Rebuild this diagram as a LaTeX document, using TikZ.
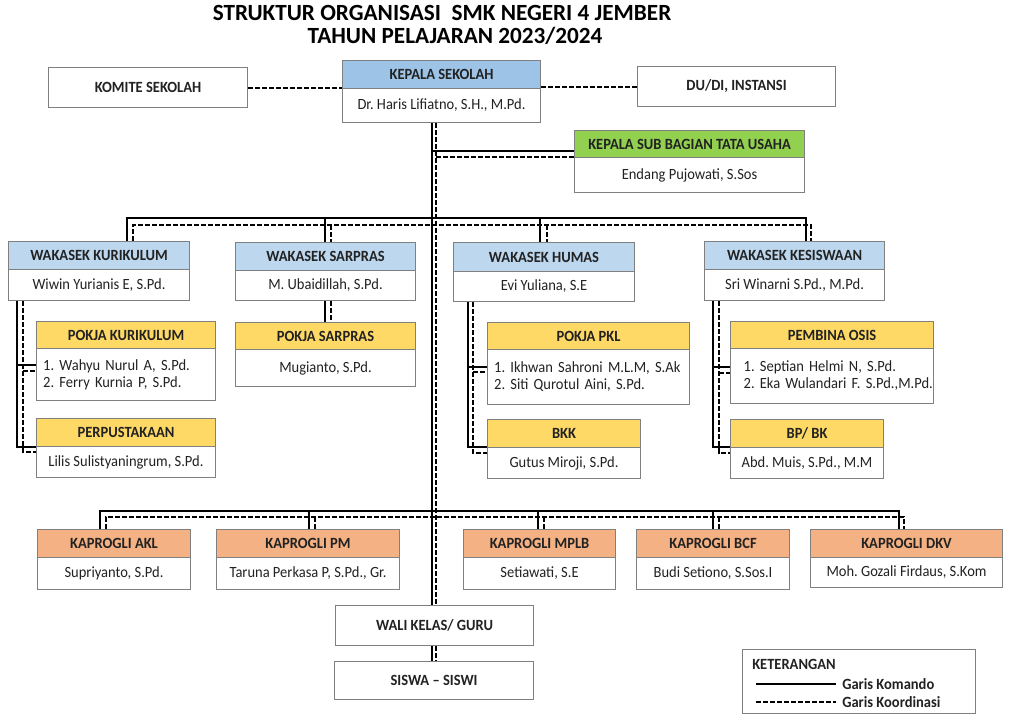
\documentclass[tikz,border=0pt]{standalone}
\usepackage{fontspec}
\setmainfont{Carlito}[FakeStretch=0.93]
\newfontfamily\titlefont{Carlito}
\frenchspacing
\definecolor{kepblue}{HTML}{9DC3E6}
\definecolor{wakblue}{HTML}{BDD7EE}
\definecolor{tugreen}{HTML}{92D050}
\definecolor{pokyel}{HTML}{FFD966}
\definecolor{kaporg}{HTML}{F4B183}
\definecolor{bordc}{HTML}{808080}
\definecolor{txtc}{HTML}{222222}
\tikzset{
  hd/.style n args={2}{draw=bordc, line width=0.8pt, minimum width=#1*0.75pt, minimum height=#2*0.75pt,
    anchor=north west, inner sep=0pt, text=txtc, font=\bfseries\fontsize{11.7}{13}\selectfont},
  bd/.style n args={2}{draw=bordc, line width=0.8pt, fill=white, minimum width=#1*0.75pt, minimum height=#2*0.75pt,
    anchor=north west, inner sep=0pt, text=txtc, font=\fontsize{11.7}{13}\selectfont},
  lst/.style={align=left, text width=#1*0.75pt-10pt, inner xsep=5pt, font=\fontsize{11.7}{12.8}\selectfont},
  cmd/.style={line width=1.5pt, black},
  crd/.style={line width=1.5pt, black, dash pattern=on 3.75pt off 1.5pt},
  ttl/.style={font=\titlefont\bfseries\fontsize{17.4}{21}\selectfont, text=black, inner sep=0pt},
  lbl/.style={font=\bfseries\fontsize{11.7}{13}\selectfont, text=txtc, inner sep=0pt, anchor=west},
}
\begin{document}
\begin{tikzpicture}[x=0.75pt, y=-0.75pt]
\useasboundingbox (0,0) rectangle (1024,725);
\fill[white] (0,0) rectangle (1024,725);

% title
\node[ttl] (t1) at (442,12.5) {STRUKTUR ORGANISASI\ \ SMK NEGERI 4 JEMBER};
\node[ttl] (t2) at (455,36) {TAHUN PELAJARAN 2023/2024};

% top
\node[hd={199}{40}] (komite) at (48,67) {KOMITE SEKOLAH};
\node[hd={198}{40}] (dudi) at (637,66) {DU/DI, INSTANSI};
\node[hd={198}{28}, fill=kepblue] (ksh) at (342,60) {KEPALA SEKOLAH};
\node[bd={198}{34}] (ks) at (342,88) {Dr. Haris Lifiatno, S.H., M.Pd.};
\node[hd={230}{27}, fill=tugreen] (tuh) at (574,130) {KEPALA SUB BAGIAN TATA USAHA};
\node[bd={230}{35}] (tu) at (574,157) {Endang Pujowati, S.Sos};

% wakasek
\node[hd={181}{28}, fill=wakblue] (wkh) at (8,241) {WAKASEK KURIKULUM};
\node[bd={181}{31}] (wk) at (8,269) {Wiwin Yurianis E, S.Pd.};
\node[hd={180}{28}, fill=wakblue] (wsh) at (235,242) {WAKASEK SARPRAS};
\node[bd={180}{30}] (ws) at (235,270) {M. Ubaidillah, S.Pd.};
\node[hd={181}{29}, fill=wakblue] (whh) at (453,242) {WAKASEK HUMAS};
\node[bd={181}{30}] (wh) at (453,271) {Evi Yuliana, S.E};
\node[hd={180}{28}, fill=wakblue] (wkesh) at (704,241) {WAKASEK KESISWAAN};
\node[bd={180}{31}] (wkes) at (704,269) {Sri Winarni S.Pd., M.Pd.};

% pokja
\node[hd={179}{27}, fill=pokyel] (pkurh) at (36,321) {POKJA KURIKULUM};
\node[bd={179}{52}, lst=179] (pkur) at (36,348) {\mbox{1. Wahyu Nurul A, S.Pd.}\\\mbox{2. Ferry Kurnia P, S.Pd.}};
\node[hd={179}{28}, fill=pokyel] (perph) at (36,418) {PERPUSTAKAAN};
\node[bd={179}{31}] (perp) at (36,446) {Lilis Sulistyaningrum, S.Pd.};
\node[hd={180}{27}, fill=pokyel] (psarh) at (235,322) {POKJA SARPRAS};
\node[bd={180}{37}] (psar) at (235,349) {Mugianto, S.Pd.};
\node[hd={202}{27}, fill=pokyel] (ppklh) at (487,322) {POKJA PKL};
\node[bd={202}{55}, lst=202] (ppkl) at (487,349) {\mbox{1. Ikhwan Sahroni M.L.M, S.Ak}\\\mbox{2. Siti Qurotul Aini, S.Pd.}};
\node[hd={153}{28}, fill=pokyel] (bkkh) at (487,419) {BKK};
\node[bd={153}{31}] (bkk) at (487,447) {Gutus Miroji, S.Pd.};
\node[hd={203}{27}, fill=pokyel] (osish) at (730,321) {PEMBINA OSIS};
\node[bd={203}{55}, lst=190, inner xsep=7.5pt] (osis) at (730,348) {\mbox{1. Septian Helmi N, S.Pd.}\\\mbox{2. Eka Wulandari F. S.Pd.,M.Pd.}};
\node[hd={153}{28}, fill=pokyel] (bpbkh) at (730,419) {BP/ BK};
\node[bd={153}{31}] (bpbk) at (730,447) {Abd. Muis, S.Pd., M.M};

% kaprogli
\node[hd={153}{28}, fill=kaporg] (aklh) at (37,529) {KAPROGLI AKL};
\node[bd={153}{32}] (akl) at (37,557) {Supriyanto, S.Pd.};
\node[hd={183}{28}, fill=kaporg] (pmh) at (216,529) {KAPROGLI PM};
\node[bd={183}{32}] (pm) at (216,557) {Taruna Perkasa P, S.Pd., Gr.};
\node[hd={152}{28}, fill=kaporg] (mplbh) at (463,529) {KAPROGLI MPLB};
\node[bd={152}{32}] (mplb) at (463,557) {Setiawati, S.E};
\node[hd={153}{28}, fill=kaporg] (bcfh) at (636,529) {KAPROGLI BCF};
\node[bd={153}{32}] (bcf) at (636,557) {Budi Setiono, S.Sos.I};
\node[hd={192}{28}, fill=kaporg] (dkvh) at (810,529) {KAPROGLI DKV};
\node[bd={192}{30}] (dkv) at (810,557) {Moh. Gozali Firdaus, S.Kom};

% bottom
\node[hd={198}{40}] (wali) at (335,605) {WALI KELAS/ GURU};
\node[hd={199}{38}] (siswa) at (334,661) {SISWA -- SISWI};

% legend
\node[hd={233}{64}] (leg) at (742,649) {};
\node[lbl] (legt) at (752,664) {KETERANGAN};
\node[lbl] (legk) at (842,684) {Garis Komando};
\node[lbl] (legd) at (842,702) {Garis Koordinasi};
\coordinate (lk1) at (756,684); \coordinate (lk2) at (836,684);
\coordinate (ld1) at (756,702); \coordinate (ld2) at (836,702);
\draw[line width=1.2pt] (lk1) -- (lk2);
\draw[line width=1.2pt, dash pattern=on 3.75pt off 1.5pt] (ld1) -- (ld2);

% column / row coordinates
\coordinate (cS) at (432,0); \coordinate (cD) at (436,0);
\coordinate (rTuS) at (0,151); \coordinate (rTuD) at (0,157);
\coordinate (rWS) at (0,218); \coordinate (rWD) at (0,225);
\coordinate (rKS) at (0,511); \coordinate (rKD) at (0,517);
\coordinate (wkS) at (127,0); \coordinate (wkD) at (133,0);
\coordinate (wsS) at (325,0); \coordinate (wsD) at (331,0);
\coordinate (whS) at (540,0); \coordinate (whD) at (547,0);
\coordinate (wkesS) at (806,0); \coordinate (wkesD) at (811,0);
\coordinate (kurS) at (17,0); \coordinate (kurD) at (23,0);
\coordinate (humS) at (468,0); \coordinate (humD) at (473,0);
\coordinate (kesS) at (713,0); \coordinate (kesD) at (719,0);
\coordinate (aklS) at (100,0); \coordinate (aklD) at (106,0);
\coordinate (pmS) at (309,0); \coordinate (pmD) at (315,0);
\coordinate (mplbS) at (538,0); \coordinate (mplbD) at (544,0);
\coordinate (bcfS) at (713,0); \coordinate (bcfD) at (719,0);
\coordinate (dkvS) at (899,0); \coordinate (dkvD) at (904,0);
\coordinate (pkS) at (0,365); \coordinate (pkD) at (0,371);
\coordinate (ppS) at (0,447); \coordinate (ppD) at (0,452);
\coordinate (hkS) at (0,367); \coordinate (hkD) at (0,372);
\coordinate (hbS) at (0,447); \coordinate (hbD) at (0,453);
\coordinate (kkS) at (0,367); \coordinate (kkD) at (0,373);
\coordinate (kbS) at (0,447); \coordinate (kbD) at (0,453);

% kepala side links
\draw[crd] (komite.east) -- (komite.east -| ksh.west);
\draw[crd] (dudi.west -| ksh.east) -- (dudi.west);

% trunk
\draw[cmd] (ks.south -| cS) -- (wali.north -| cS);
\draw[crd] (ks.south -| cD) -- (wali.north -| cD);
\draw[cmd] (wali.south -| cS) -- (siswa.north -| cS);
\draw[crd] (wali.south -| cD) -- (siswa.north -| cD);

% TU
\draw[cmd] (cS |- rTuS) -- (tuh.west |- rTuS);
\draw[crd] (cD |- rTuD) -- (tuh.west |- rTuD);

% wakasek bus
\draw[cmd] (wkh.north -| wkS) -- (wkS |- rWS) -- (wkesS |- rWS) -- (wkesh.north -| wkesS);
\draw[cmd] (wsS |- rWS) -- (wsh.north -| wsS);
\draw[cmd] (whS |- rWS) -- (whh.north -| whS);
\draw[crd] (wkh.north -| wkD) -- (wkD |- rWD) -- (wkesD |- rWD) -- (wkesh.north -| wkesD);
\draw[crd] (wsD |- rWD) -- (wsh.north -| wsD);
\draw[crd] (whD |- rWD) -- (whh.north -| whD);

% kurikulum subs
\draw[cmd] (wk.south -| kurS) -- (kurS |- ppS) -- (perp.west |- ppS);
\draw[cmd] (kurS |- pkS) -- (pkur.west |- pkS);
\draw[crd] (wk.south -| kurD) -- (kurD |- ppD) -- (perp.west |- ppD);
\draw[crd] (kurD |- pkD) -- (pkur.west |- pkD);

% sarpras
\draw[cmd] (ws.south -| wsS) -- (psarh.north -| wsS);
\draw[crd] (ws.south -| wsD) -- (psarh.north -| wsD);

% humas
\draw[cmd] (wh.south -| humS) -- (humS |- hbS) -- (bkk.west |- hbS);
\draw[cmd] (humS |- hkS) -- (ppkl.west |- hkS);
\draw[crd] (wh.south -| humD) -- (humD |- hbD) -- (bkk.west |- hbD);
\draw[crd] (humD |- hkD) -- (ppkl.west |- hkD);

% kesiswaan
\draw[cmd] (wkes.south -| kesS) -- (kesS |- kbS) -- (bpbk.west |- kbS);
\draw[cmd] (kesS |- kkS) -- (osis.west |- kkS);
\draw[crd] (wkes.south -| kesD) -- (kesD |- kbD) -- (bpbk.west |- kbD);
\draw[crd] (kesD |- kkD) -- (osis.west |- kkD);

% kaprogli bus
\draw[cmd] (aklh.north -| aklS) -- (aklS |- rKS) -- (dkvS |- rKS) -- (dkvh.north -| dkvS);
\draw[cmd] (pmS |- rKS) -- (pmh.north -| pmS);
\draw[cmd] (mplbS |- rKS) -- (mplbh.north -| mplbS);
\draw[cmd] (bcfS |- rKS) -- (bcfh.north -| bcfS);
\draw[crd] (aklh.north -| aklD) -- (aklD |- rKD) -- (dkvD |- rKD) -- (dkvh.north -| dkvD);
\draw[crd] (pmD |- rKD) -- (pmh.north -| pmD);
\draw[crd] (mplbD |- rKD) -- (mplbh.north -| mplbD);
\draw[crd] (bcfD |- rKD) -- (bcfh.north -| bcfD);
\end{tikzpicture}
\end{document}
